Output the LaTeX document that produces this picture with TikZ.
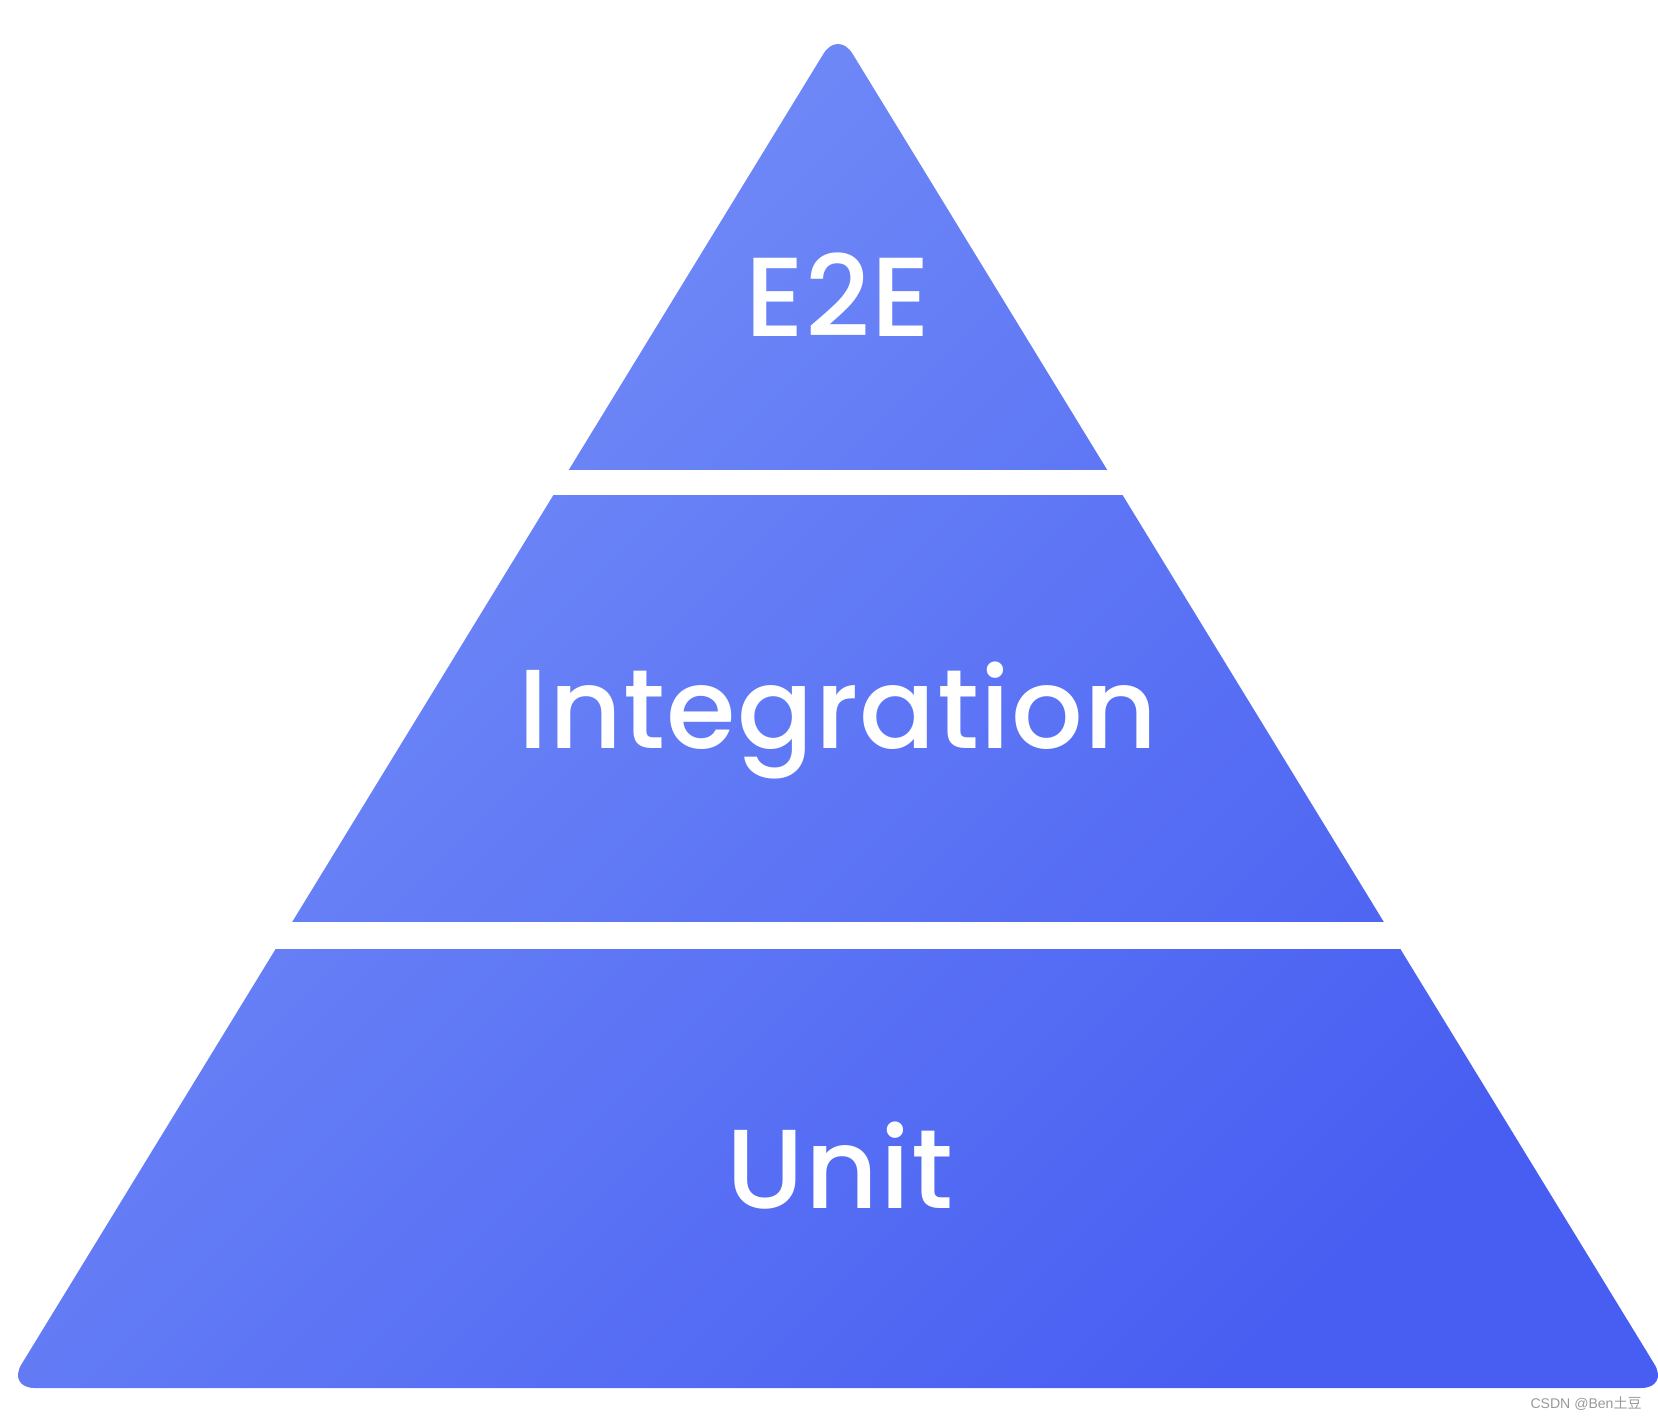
\documentclass[tikz,border=0pt]{standalone}
\usepackage{fontspec}
\setmainfont{Poppins}
\newfontfamily\lvlfont{Poppins Medium}[LetterSpace=1.2]
\newfontfamily\markfont{Liberation Sans}
\newfontfamily\cjk{Noto Sans CJK SC}
\usetikzlibrary{positioning}
\definecolor{pyrlight}{RGB}{118,145,248}
\definecolor{pyrdark}{RGB}{72,94,242}
\tikzset{
  pyr/.style={top color=pyrlight, bottom color=pyrdark, shading angle=45,
              draw=none, rounded corners=0.56cm},
  gap/.style={fill=white, draw=none},
  lvl/.style={text=white, font=\lvlfont\fontsize{64}{70}\selectfont, inner sep=0pt, anchor=base},
  wmark/.style={text=gray!80, font=\markfont\fontsize{8}{9}\selectfont, inner sep=0pt}
}
\begin{document}
\begin{tikzpicture}[x=0.02cm, y=-0.02cm]
  \useasboundingbox (0,0) rectangle (1658,1420);
  % pyramid
  \coordinate (top) at (838,30);
  \coordinate (bl) at (7,1388);
  \coordinate (br) at (1669,1388);
  \shade[pyr] (top) -- (br) -- (bl) -- cycle;
  % gaps between the levels
  \fill[gap] (0,469.5) rectangle (1658,495);
  \fill[gap] (0,922) rectangle (1658,948.5);
  % labels
  \node[lvl] (e2e) at (838,336) {E2E};
  \node[lvl] (integ) at (838,748.5) {Integration};
  \node[lvl] (unit) at (840,1208.5) {Unit};
  \node[wmark, anchor=east] (wm) at (1642,1404) {CSDN @Ben{\cjk 土豆}};
\end{tikzpicture}
\end{document}
